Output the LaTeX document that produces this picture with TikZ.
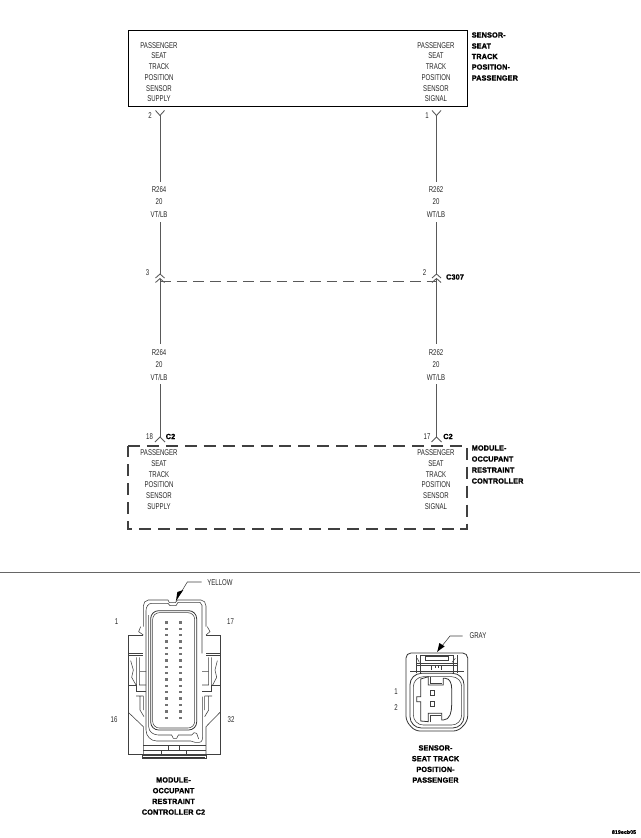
\documentclass[tikz,border=0pt]{standalone}
\usepackage{fontspec}
\usetikzlibrary{calc}
\setmainfont{Liberation Sans}
\newfontfamily\thinfont[FakeStretch=0.72]{Liberation Sans}
\newfontfamily\blackfont[FakeStretch=0.97,LetterSpace=2,FakeBold=1.5]{Liberation Sans Bold}
\begin{document}
\begin{tikzpicture}[x=0.75pt,y=-0.75pt,
  lbl/.style={font=\thinfont\fontsize{6.3pt}{8pt}\selectfont,text=black!85,inner sep=0pt,anchor=center},
  heavy/.style={font=\blackfont\fontsize{5.6pt}{8pt}\selectfont,text=black,inner sep=0pt},
  wire/.style={draw=black!65,line width=0.65pt},
  solidbox/.style={draw=black,line width=0.75pt},
  dashbox/.style={draw=black!75,line width=0.9pt,dash pattern=on 9pt off 5.2pt},
  link/.style={draw=black!65,line width=0.6pt,dash pattern=on 8pt off 4.5pt},
  fig/.style={draw=black!75,line width=0.42pt},
  figb/.style={draw=black!80,line width=0.6pt},
  rulel/.style={draw=black!60,line width=0.6pt}]
\useasboundingbox (0,0) rectangle (640,838);
% boxes
\coordinate (b1nw) at (128,31); \coordinate (b1se) at (467,106.5);
\draw[solidbox] (b1nw) rectangle (b1se);
\coordinate (b2nw) at (128,446); \coordinate (b2se) at (467,529);
\draw[dashbox] (b2nw) -- (b2se |- b2nw) -- (b2se) -- (b2nw |- b2se) -- cycle;
% box texts
\foreach \x in {159,436}{
 \foreach \t/\y in {PASSENGER/45.5,SEAT/56,TRACK/67,POSITION/77.5,SENSOR/88.5}{
  \node[lbl] at (\x,\y) {\t};
  \pgfmathsetmacro\yy{\y+407.5}
  \node[lbl] at (\x,\yy) {\t};
 }}
\node[lbl] at (159,99) {SUPPLY};
\node[lbl] at (436,99) {SIGNAL};
\node[lbl] at (159,506.5) {SUPPLY};
\node[lbl] at (436,506.5) {SIGNAL};
% side labels
\foreach \t/\y in {SENSOR-/35,SEAT/46,TRACK/56.5,POSITION-/67,PASSENGER/78}
  \node[heavy,anchor=west] at (471.5,\y) {\t};
\foreach \t/\y in {MODULE-/448,OCCUPANT/459,RESTRAINT/470,CONTROLLER/481}
  \node[heavy,anchor=west] at (471.5,\y) {\t};
% wires, broken round their labels
\foreach \n/\x in {l/160,r/436.5}{
  \coordinate (\n a) at (\x,115.5); \coordinate (\n b) at (\x,182);
  \coordinate (\n c) at (\x,222);   \coordinate (\n d) at (\x,274);
  \coordinate (\n e) at (\x,278.5); \coordinate (\n f) at (\x,344);
  \coordinate (\n g) at (\x,384);   \coordinate (\n h) at (\x,437);
  \coordinate (\n k) at (\x,281.5);
  \draw[wire] (\n a) -- (\n b);
  \draw[wire] (\n c) -- (\n d);
  \draw[wire] (\n e) -- (\n f);
  \draw[wire] (\n g) -- (\n h);
  \draw[wire] ($(\n a)+(-4.5,-5)$) -- (\n a) -- ($(\n a)+(4.5,-5)$);
  \draw[wire] ($(\n d)+(-4.5,4)$) -- (\n d) -- ($(\n d)+(4.5,4)$);
  \draw[wire] ($(\n e)+(-4.5,4)$) -- (\n e) -- ($(\n e)+(4.5,4)$);
  \draw[wire] ($(\n h)+(-5,5)$) -- (\n h) -- ($(\n h)+(5,5)$);
}
\draw[link] (lk) -- (rk);
% pin & wire labels
\node[lbl] at (150,115.5) {2};
\node[lbl] at (427,115.5) {1};
\node[lbl] at (147.5,273) {3};
\node[lbl] at (424.5,273) {2};
\node[lbl] at (149.5,437) {18};
\node[lbl] at (427,437) {17};
\node[heavy] at (455,277) {C307};
\node[heavy] at (170.5,436.5) {C2};
\node[heavy] at (448,436.5) {C2};
\foreach \y in {190,353}{
  \node[lbl] at (159,\y) {R264};
  \node[lbl] at (159,\y+12) {20};
  \node[lbl] at (159,\y+24) {VT/LB};
  \node[lbl] at (436,\y) {R262};
  \node[lbl] at (436,\y+12) {20};
  \node[lbl] at (436,\y+24) {WT/LB};
}
% separator
\coordinate (sl) at (0,572.5); \coordinate (sr) at (640,572.5);
\draw[rulel] (sl) -- (sr);
% connector view 1
\begin{scope}[shift={(100,570)},x=0.25pt,y=-0.25pt]
  \draw[fig] (130,170) -- (130,108) to[out=90,in=180] (145,90) -- (204,90) -- (208,98) -- (226,98) -- (232,90) -- (303,90) to[out=0,in=90] (318,108) -- (318,170);
  \draw[fig] (138,185) -- (138,122) to[out=90,in=180] (155,100) -- (204,100) -- (210,107) -- (228,107) -- (234,97) -- (300,97) -- (306,106) -- (306,250);
  \draw[figb,rounded corners=6pt] (152,122) rectangle (290,480);
  \draw[fig,rounded corners=5pt] (158,128) rectangle (284,474);
  \draw[fig] (138,185) -- (138,480) to[out=-90,in=180] (170,513) -- (272,513) -- (285,517) -- (298,517) to[out=0,in=-90] (308,495) -- (308,380);
  \draw[fig] (146,135) -- (146,470) to[out=-90,in=180] (175,495) -- (215,495) -- (220,505) -- (230,505) -- (235,495) -- (275,495) -- (282,488) -- (290,490) -- (296,507);
  \foreach \i in {0,...,15}{
    \pgfmathsetmacro\yy{157+\i*19.07}
    \fill[black!55] (194,\yy-3.5) rectangle (203,\yy+3.5);
    \fill[black!55] (238,\yy-3.5) rectangle (247,\yy+3.5);
  }
  % left wing
  \draw[fig] (130,195) -- (85,195) -- (85,552) -- (130,552);
  \draw[fig] (85,250) -- (130,250) (85,256) -- (130,256) (85,345) -- (110,345) -- (110,365) -- (138,365);
  \draw[fig] (85,427) -- (130,470) -- (130,552);
  \draw[fig] (122,170) -- (116,185) -- (130,195) (110,262) -- (110,345) (118,262) -- (118,345) -- (138,345) (92,272) -- (100,300) -- (95,322) -- (108,345);
  \draw[fig] (120,305) -- (138,305) (108,378) -- (130,378) (120,378) -- (120,420) -- (132,440) (130,378) -- (130,420);
  % right wing
  \draw[fig] (318,195) -- (360,195) -- (360,552) -- (318,552);
  \draw[fig] (318,250) -- (360,250) (318,256) -- (360,256) (360,345) -- (335,345) -- (335,365) -- (306,365);
  \draw[fig] (360,427) -- (318,470) -- (318,552);
  \draw[fig] (322,170) -- (330,185) -- (318,195) (335,262) -- (335,345) (326,262) -- (326,345) -- (306,345) (352,272) -- (345,300) -- (350,322) -- (338,345);
  \draw[fig] (326,305) -- (306,305) (336,378) -- (314,378) (326,378) -- (326,420) -- (314,440) (314,378) -- (314,420);
  % bottom
  \draw[fig] (130,527) -- (318,527) (130,540) -- (188,540) (240,540) -- (318,540);
  \draw[fig] (185,552) -- (185,540) -- (205,540) -- (205,527) (205,540) -- (238,540) -- (238,527) (238,540) -- (258,540) -- (258,552);
  \draw[fig] (130,552) -- (318,552);
  \draw[fig] (128,555) rectangle (318,565);
  \draw[figb,line width=0.9pt] (130,563) -- (316,563);
  % leader
  \coordinate (ya) at (305,36); \coordinate (yb) at (262,36); \coordinate (yc) at (228,92);
  \draw[fig] (ya) -- (yb) -- (yc);
  \fill[black] (yc) -- (232,66) -- (250,60) -- cycle;
\end{scope}
\node[lbl] at (220,583) {YELLOW};
\node[lbl] at (116.5,622) {1};
\node[lbl] at (230.5,622) {17};
\node[lbl] at (114,719.5) {16};
\node[lbl] at (231,719.5) {32};
\node[heavy,align=center,font=\blackfont\fontsize{5.6pt}{8.05pt}\selectfont] at (173.5,796) {MODULE-\\OCCUPANT\\RESTRAINT\\CONTROLLER C2};
% connector view 2
\begin{scope}[shift={(380,625)},x=0.25pt,y=-0.25pt]
  \draw[figb,rounded corners=3.7pt] (78,84) -- (263,84) -- (263,288) -- (235,318) -- (105,318) -- (78,288) -- cycle;
  \draw[figb,rounded corners=8.5pt] (90,145) rectangle (252,309);
  \draw[fig,rounded corners=7.5pt] (100,155) rectangle (245,300);
  % latch
  \draw[fig] (110,145) -- (110,90) (122,145) -- (122,90) -- (220,90) -- (220,145) (232,145) -- (232,90);
  \draw[fig] (110,115) -- (232,115) (110,122) -- (232,122);
  \draw[fig] (135,105) -- (135,95) -- (205,95) -- (205,105) -- (135,105);
  \draw[fig] (155,135) -- (155,120) -- (185,120) -- (185,135) (90,138) -- (252,138);
  \draw[fig] (165,120) -- (165,128) (175,120) -- (175,128);
  \draw[fig] (112,100) -- (118,112) (226,100) -- (216,112);
  % inner socket
  \draw[figb] (122,215) -- (122,162) -- (145,155) -- (145,180) -- (190,180) -- (190,160) -- (196,160) to[out=0,in=90] (215,190) -- (215,240) to[out=-90,in=0] (190,285) -- (185,285) -- (185,265) -- (145,265) -- (145,290) -- (122,288) -- (122,230) -- (110,230) -- (110,215) -- cycle;
  \draw[fig] (150,155) -- (150,175) -- (185,175) (150,292) -- (150,271) -- (182,271);
  \draw[fig] (151,197) rectangle (162,210);
  \draw[fig] (151,230) rectangle (162,243);
  % leader
  \coordinate (ga) at (248,33); \coordinate (gb) at (210,33); \coordinate (gc) at (172,80);
  \draw[fig] (ga) -- (gb) -- (gc);
  \fill[black] (gc) -- (178,54) -- (194,64) -- cycle;
\end{scope}
\node[lbl] at (478,636) {GRAY};
\node[lbl] at (396,692) {1};
\node[lbl] at (396,708) {2};
\node[heavy,align=center,font=\blackfont\fontsize{5.6pt}{8.05pt}\selectfont] at (435.5,764) {SENSOR-\\SEAT TRACK\\POSITION-\\PASSENGER};
\node[heavy,font=\blackfont\fontsize{4pt}{5pt}\selectfont] at (624,832) {819ecb05};
\end{tikzpicture}
\end{document}
